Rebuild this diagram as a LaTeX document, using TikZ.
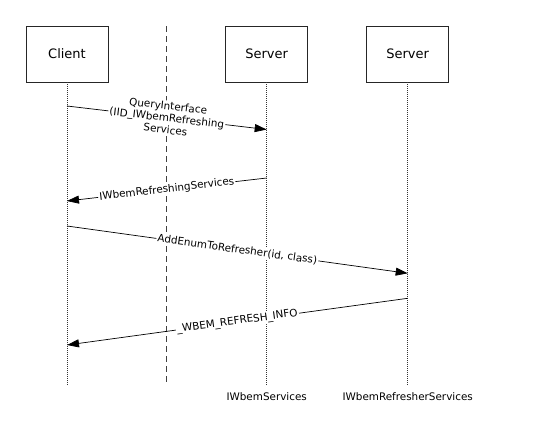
\documentclass[tikz,border=0pt]{standalone}
\usepackage{fontspec}
\setmainfont{DejaVu Sans}
\usetikzlibrary{arrows.meta}
\begin{document}
\begin{tikzpicture}[x=1pt,y=-1pt,
 actor/.style={draw=black!85, line width=0.8pt, minimum width=82pt, minimum height=56pt, font=\fontsize{13}{15}\selectfont, inner sep=0pt},
 lifeline/.style={line width=0.6pt, dash pattern=on 1pt off 1pt, black!80},
 sepline/.style={line width=0.9pt, dash pattern=on 6pt off 4pt, black!75},
 msg/.style={line width=0.7pt, -{Triangle[length=12pt,width=8pt]}},
 msglabel/.style={fill=white, inner sep=1.2pt, font=\fontsize{10.4}{12}\selectfont, align=center},
 iface/.style={font=\fontsize{10.4}{12}\selectfont, inner sep=0pt}]
\useasboundingbox (0,0) rectangle (533,437);
\node[actor] (client) at (67,54) {Client};
\node[actor] (srvA) at (266.7,54) {Server};
\node[actor] (srvB) at (407.7,54) {Server};
\coordinate (clientEnd) at (67,385);
\coordinate (srvAEnd) at (266.7,385);
\coordinate (srvBEnd) at (407.7,385);
\coordinate (sepTop) at (166.7,26);
\coordinate (sepBot) at (166.7,385);
\draw[lifeline] (client.south) -- (clientEnd);
\draw[lifeline] (srvA.south) -- (srvAEnd);
\draw[lifeline] (srvB.south) -- (srvBEnd);
\draw[sepline] (sepTop) -- (sepBot);
\node[iface] (ifA) at (266.7,397) {IWbemServices};
\node[iface] (ifB) at (407.7,397) {IWbemRefresherServices};
\coordinate (m1s) at (67,106);
\coordinate (m1e) at (266.7,129.5);
\coordinate (m2s) at (266.7,178);
\coordinate (m2e) at (67,201);
\coordinate (m3s) at (67,226);
\coordinate (m3e) at (407.7,273.3);
\coordinate (m4s) at (407.7,298.3);
\coordinate (m4e) at (67,345);
\draw[msg] (m1s) -- node[msglabel, sloped] {QueryInterface\\(IID\_IWbemRefreshing\\Services} (m1e);
\draw[msg] (m2s) -- node[msglabel, sloped] {IWbemRefreshingServices} (m2e);
\draw[msg] (m3s) -- node[msglabel, sloped] {AddEnumToRefresher(id, class)} (m3e);
\draw[msg] (m4s) -- node[msglabel, sloped] {\_WBEM\_REFRESH\_INFO} (m4e);
\end{tikzpicture}
\end{document}
